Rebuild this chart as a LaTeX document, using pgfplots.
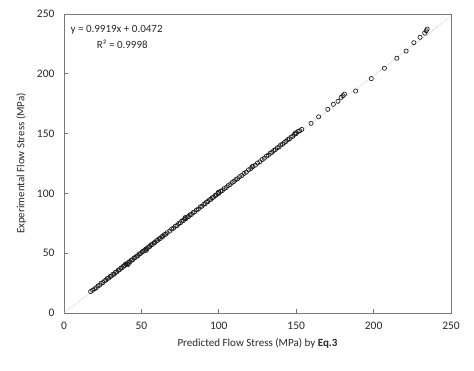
\documentclass[border=0pt]{standalone}
\usepackage{pgfplots}
\pgfplotsset{compat=1.18}
\usepackage{fontspec}
\setmainfont{Carlito}
\definecolor{txt}{RGB}{40,40,40}
\definecolor{ax}{RGB}{120,120,120}
\begin{document}
\begin{tikzpicture}[x=1pt,y=1pt]
\path[use as bounding box] (-64,-57) rectangle (410,313);
\begin{axis}[
  at={(0,0)}, anchor=south west,
  scale only axis, width=387pt, height=299pt,
  xmin=0, xmax=250, ymin=0, ymax=250,
  xtick={0,50,...,250}, ytick={0,50,...,250},
  tick align=inside, xtick pos=bottom, ytick pos=left,
  major tick length=4pt,
  axis line style={ax, line width=0.8pt},
  tick style={ax, line width=0.6pt},
  /pgf/number format/assume math mode=true,
  tick label style={font=\fontsize{11.5}{13}\selectfont, text=txt},
  xticklabel style={yshift=-6pt},
  yticklabel style={xshift=-6pt},
  label style={font=\fontsize{11}{13}\selectfont, text=txt},
  xlabel={Predicted Flow Stress (MPa) by \textbf{Eq.3}},
  ylabel={Experimental Flow Stress (MPa)},
  xlabel style={yshift=-2pt},
  ylabel style={yshift=4pt},
  clip=true,
]
\addplot[gray!60, line width=0.6pt, densely dotted] coordinates {(0,0.0472) (250,248.02)};
\addplot[only marks, mark=o, mark size=2.1pt, mark options={line width=0.65pt, draw=black!90}] table {
x y
17.2 18.0
18.5 19.1
19.8 20.3
20.9 21.2
22.0 22.6
23.1 23.4
24.0 24.9
25.2 25.5
26.3 26.9
27.1 27.6
28.0 28.9
28.9 29.2
29.8 30.5
30.6 30.9
31.5 32.3
32.4 32.6
33.2 34.0
34.1 34.3
35.0 35.8
35.8 36.1
36.7 37.5
37.5 37.8
38.4 39.2
39.2 39.6
39.8 41.0
40.1 40.8
41.0 41.2
41.5 40.6
41.8 42.5
42.7 42.9
43.5 44.2
44.3 44.5
45.2 45.9
46.0 46.4
46.9 47.4
47.8 48.0
48.6 49.3
49.4 49.7
50.3 50.8
51.1 51.6
52.0 52.3
52.8 53.5
53.2 52.4
53.7 53.9
54.5 55.1
55.4 55.6
56.2 56.9
57.1 57.3
58.0 58.6
58.8 59.0
59.7 60.4
60.5 60.8
61.4 62.0
62.3 62.4
63.1 63.8
64.0 64.2
64.8 65.5
65.7 65.8
66.6 67.1
68.3 68.5
69.5 70.2
70.8 70.9
71.9 72.5
73.0 73.1
74.1 74.8
75.2 75.4
76.1 76.9
77.0 77.2
77.9 78.6
78.3 79.8
78.8 79.0
79.6 80.3
80.5 80.7
81.4 82.1
82.3 82.4
83.3 83.9
84.4 84.5
85.6 86.1
86.8 86.9
88.0 88.6
89.1 89.3
90.3 90.9
91.2 91.4
92.1 92.8
93.0 93.2
93.9 94.6
94.8 95.0
95.7 96.3
96.6 96.8
97.5 98.2
98.4 98.6
99.3 99.9
99.8 101.0
100.2 100.4
101.2 101.8
102.3 102.4
103.5 104.0
104.8 104.9
106.0 106.5
107.3 107.4
108.6 109.1
109.8 110.0
111.0 111.6
112.2 112.3
113.5 114.0
114.9 115.0
116.3 116.7
117.8 117.8
119.2 119.7
120.7 120.8
121.5 122.2
122.1 122.6
123.6 123.6
125.0 125.4
126.5 126.4
128.0 128.3
129.4 129.4
130.8 131.2
132.0 131.9
133.2 133.6
134.3 134.3
135.5 135.9
136.6 136.6
137.8 138.1
138.9 138.9
140.0 140.5
141.2 141.1
142.3 142.6
143.4 143.5
144.5 145.0
145.6 145.6
146.7 147.1
147.8 147.7
148.9 149.4
149.5 150.6
150.0 150.0
151.2 151.8
152.3 152.4
153.6 153.5
159.6 158.6
164.5 164.0
170.4 170.3
174.0 174.5
177.0 177.0
179.0 180.3
180.2 181.7
181.2 183.0
188.4 185.6
198.5 196.0
207.0 204.6
215.0 213.0
221.0 219.0
226.0 226.0
230.0 230.5
233.0 234.0
234.0 236.0
234.6 237.4
};
\node[anchor=west, text=txt, font=\fontsize{11}{13}\selectfont] at (axis cs:2,237) {y = 0.9919x + 0.0472};
\node[anchor=west, text=txt, font=\fontsize{11}{13}\selectfont] at (axis cs:19,225) {R² = 0.9998};
\end{axis}
\end{tikzpicture}
\end{document}
